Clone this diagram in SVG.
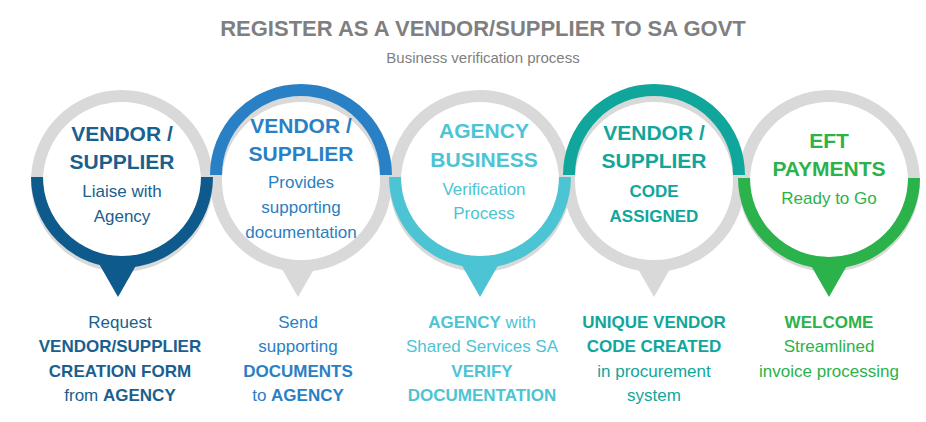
<svg xmlns="http://www.w3.org/2000/svg" width="926" height="422" viewBox="0 0 926 422">
<style>
text{font-family:"Liberation Sans",Arial,sans-serif;text-anchor:middle}
.t{font-size:22px;font-weight:bold;fill:#7f7f7f}
.s{font-size:15px;fill:#7f7f7f}
.h{font-size:21px;font-weight:bold}
.n{font-size:17px}
.b{font-weight:bold}
.g{fill:none;stroke:#d9d9d9;stroke-width:12}
.c{fill:none;stroke-width:12}
</style>
<rect width="926" height="422" fill="#fff"/>
<text class="t" x="483" y="36">REGISTER AS A VENDOR/SUPPLIER TO SA GOVT</text>
<text class="s" x="483" y="63">Business verification process</text>
<g id="rings-grey">
<circle class="g" cx="122" cy="181" r="85"/>
<circle class="g" cx="301" cy="181" r="85"/>
<circle class="g" cx="480" cy="181" r="85"/>
<circle class="g" cx="654" cy="181" r="85"/>
<circle class="g" cx="829" cy="181" r="85"/>
<polygon points="278,262 318,262 298,297" fill="#d9d9d9"/>
<polygon points="634,262 674,262 654,297" fill="#d9d9d9"/>
</g>
<g id="node1"><path class="c" stroke="#0e5a8c" d="M37,177 A85,85 0 1,0 207,177"/><polygon points="98,262 138,262 118,297" fill="#0e5a8c"/>
<g fill="#1a5f8e"><text class="h" x="122" y="141">VENDOR /</text><text class="h" x="122" y="169">SUPPLIER</text><text class="n" x="122" y="197">Liaise with</text><text class="n" x="122" y="222">Agency</text></g></g>
<g id="node2"><path class="c" stroke="#2a80c4" d="M216,175 A85,85 0 0,1 386,175"/>
<g fill="#2a80c4"><text class="h" x="301" y="133">VENDOR /</text><text class="h" x="301" y="161">SUPPLIER</text><text class="n" x="301" y="188">Provides</text><text class="n" x="301" y="213">supporting</text><text class="n" x="301" y="238">documentation</text></g></g>
<g id="node3"><path class="c" stroke="#4cc4d4" d="M395,177 A85,85 0 1,0 565,177"/><polygon points="460,262 500,262 480,297" fill="#4cc4d4"/>
<g fill="#4cc4d4"><text class="h" x="484" y="138">AGENCY</text><text class="h" x="484" y="167">BUSINESS</text><text class="n" x="484" y="195">Verification</text><text class="n" x="484" y="219">Process</text></g></g>
<g id="node4"><path class="c" stroke="#10a69c" d="M569,175 A85,85 0 0,1 739,175"/>
<g fill="#10a69c"><text class="h" x="654" y="140">VENDOR /</text><text class="h" x="654" y="168">SUPPLIER</text><text class="n b" x="654" y="197">CODE</text><text class="n b" x="654" y="222">ASSIGNED</text></g></g>
<g id="node5"><path class="c" stroke="#2bb24b" d="M744,178 A85,85 0 1,0 914,178"/><polygon points="809,262 849,262 829,297" fill="#2bb24b"/>
<g fill="#2bb24b"><text class="h" x="829" y="148">EFT</text><text class="h" x="829" y="176">PAYMENTS</text><text class="n" x="829" y="204">Ready to Go</text></g></g>
<g id="labels" class="n">
<g fill="#1a5f8e"><text x="120" y="328">Request</text><text class="b" x="120" y="352">VENDOR/SUPPLIER</text><text class="b" x="120" y="377">CREATION FORM</text><text x="120" y="401">from <tspan class="b">AGENCY</tspan></text></g>
<g fill="#2a80c4"><text x="298" y="328">Send</text><text x="298" y="352">supporting</text><text class="b" x="298" y="377">DOCUMENTS</text><text x="298" y="401">to <tspan class="b">AGENCY</tspan></text></g>
<g fill="#4cc4d4"><text x="482" y="328"><tspan class="b">AGENCY</tspan> with</text><text x="482" y="352">Shared Services SA</text><text class="b" x="482" y="377">VERIFY</text><text class="b" x="482" y="401">DOCUMENTATION</text></g>
<g fill="#10a69c"><text class="b" x="654" y="328">UNIQUE VENDOR</text><text class="b" x="654" y="352">CODE CREATED</text><text x="654" y="377">in procurement</text><text x="654" y="401">system</text></g>
<g fill="#2bb24b"><text class="b" x="829" y="328">WELCOME</text><text x="829" y="352">Streamlined</text><text x="829" y="377">invoice processing</text></g>
</g>
</svg>
